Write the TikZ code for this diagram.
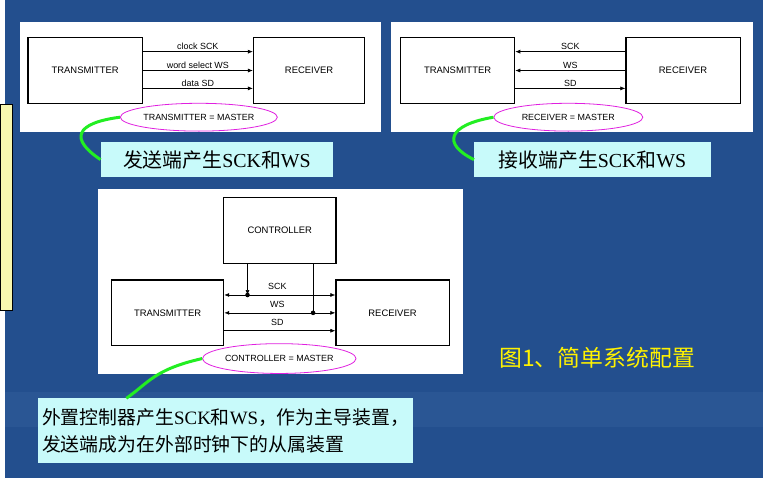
\documentclass[tikz,border=0pt]{standalone}
\usepackage{fontspec}
\setmainfont{Liberation Sans}
\newfontfamily\cjk{Noto Sans CJK SC}
\newfontfamily\tms{Liberation Serif}
\usetikzlibrary{arrows.meta,shapes.geometric}
\definecolor{bg}{HTML}{234F8E}
\definecolor{bg2}{HTML}{2A5694}
\definecolor{cy}{HTML}{C8FAFA}
\definecolor{mg}{HTML}{E020E0}
\definecolor{gr}{HTML}{22EE22}
\definecolor{yl}{HTML}{F2F27A}
\tikzset{
 blk/.style={draw,line width=1.2pt,fill=white,minimum width=#1,minimum height=66pt,inner sep=0pt,font=\fontsize{9.5}{11}\selectfont},
 sig/.style={line width=0.6pt,-{Latex[length=5pt,width=4pt]}},
 lbl/.style={font=\fontsize{9}{10}\selectfont,inner sep=1.5pt},
 ell/.style={draw=mg,line width=0.8pt,ellipse,minimum width=150pt,minimum height=28pt,font=\fontsize{9}{10}\selectfont,inner sep=0pt},
 note/.style={fill=cy,inner sep=4pt,font=\fontsize{20}{24}\selectfont,align=left},
 lead/.style={gr,line width=3pt}
}
\begin{document}
\begin{tikzpicture}[x=1pt,y=-1pt]
\fill[bg] (0,0) rectangle (763,481);
\fill[bg2] (0,395) rectangle (763,430);
\draw[fill=yl!60!white] (-5,105) rectangle (7,312);
% panel 1
\fill[white] (15,22) rectangle (378,133);
\node[blk=115pt] (t1) at (80.5,71) {TRANSMITTER};
\node[blk=112pt] (r1) at (306,71) {RECEIVER};
\draw[sig] (t1.east|-0,52) -- (r1.west|-0,52) node[lbl,midway,above] {clock SCK};
\draw[sig] (t1.east|-0,71) -- (r1.west|-0,71) node[lbl,midway,above] {word select WS};
\draw[sig] (t1.east|-0,89) -- (r1.west|-0,89) node[lbl,midway,above] {data SD};
\node[ell] (e1) at (195,118) {TRANSMITTER = MASTER};
\node[note,anchor=north west,minimum width=234pt,minimum height=35pt] (n1) at (96,143) {{\cjk 发送端产生}{\tms SCK}{\cjk 和}{\tms WS}};
\draw[lead] (e1.west) .. controls (70,124) and (65,140) .. (n1.west);
% panel 2
\fill[white] (388,22) rectangle (753,133);
\node[blk=115pt] (t2) at (455.5,71) {TRANSMITTER};
\node[blk=115pt] (r2) at (682.5,71) {RECEIVER};
\draw[sig] (r2.west|-0,52) -- (t2.east|-0,52) node[lbl,midway,above] {SCK};
\draw[sig] (r2.west|-0,71) -- (t2.east|-0,71) node[lbl,midway,above] {WS};
\draw[sig] (t2.east|-0,89) -- (r2.west|-0,89) node[lbl,midway,above] {SD};
\node[ell] (e2) at (567,118) {RECEIVER = MASTER};
\node[note,anchor=north west,minimum width=238pt,minimum height=35pt] (n2) at (472,143) {{\cjk 接收端产生}{\tms SCK}{\cjk 和}{\tms WS}};
\draw[lead] (e2.west) .. controls (445,126) and (440,145) .. (n2.west);
% panel 3
\fill[white] (93,190) rectangle (461,377);
\node[blk=113pt] (c3) at (276.5,232) {CONTROLLER};
\node[blk=113pt] (t3) at (163.5,315) {TRANSMITTER};
\node[blk=114pt] (r3) at (390,315) {RECEIVER};
\coordinate (d1) at (244,297);
\coordinate (d2) at (310,315);
\draw[sig] (d1) -- (t3.east|-d1);
\draw[sig] (d1) -- (r3.west|-d1);
\draw[sig] (d2) -- (t3.east|-d2);
\draw[sig] (d2) -- (r3.west|-d2);
\draw[sig] (t3.east|-0,333) -- (r3.west|-0,333);
\draw[sig] (c3.south-|d1) -- (d1);
\draw[line width=0.6pt] (c3.south-|d2) -- (d2);
\fill (d1) circle (2.3pt) (d2) circle (2.3pt);
\node[lbl] at (274,288) {SCK};
\node[lbl] at (274,306) {WS};
\node[lbl] at (274,325) {SD};
\node[ell,minimum width=148pt,minimum height=30pt] (e3) at (276,361) {CONTROLLER = MASTER};
\node[note,anchor=north west,minimum width=315pt,minimum height=65pt,font=\fontsize{19}{27}\selectfont] (n3) at (33,401) {{\cjk 外置控制器产生}{\tms SCK}{\cjk 和}{\tms WS}{\cjk ，作为主导装置，}\\{\cjk 发送端成为在外部时钟下的从属装置}};
\draw[lead] (e3.west) .. controls (150,372) and (145,385) .. (n3.north-|122,0);
\node[text=yellow,font=\fontsize{23}{26}\selectfont\cjk] (cap) at (596,360) {图1、简单系统配置};
\end{tikzpicture}
\end{document}
